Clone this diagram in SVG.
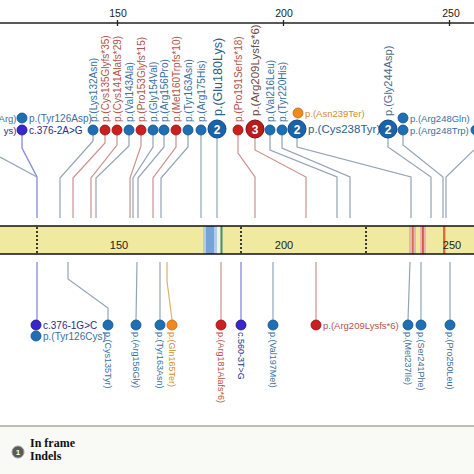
<svg xmlns="http://www.w3.org/2000/svg" width="474" height="474" viewBox="0 0 474 474">
<style>
text{font-family:"Liberation Sans",Arial,sans-serif}
.ax{font-size:10.5px;fill:#222}
.bn{font-size:11px;fill:#222}
.lt{font-size:10px}
.lb{font-size:9px}
.tb{fill:#3b6f9e}
.tr{fill:#b5524a}
.to{fill:#d98a2b}
.tp{fill:#2a2a8a}
.cb{fill:#1f6fb4;stroke:#0f4f8c;stroke-width:0.8}
.cr{fill:#cc1f1f;stroke:#8e1010;stroke-width:0.8}
.cp{fill:#3a26cc;stroke:#1c1280;stroke-width:0.8}
.co{fill:#f08a1c;stroke:#c06a10;stroke-width:0.8}
.big{fill:#1b63a8;stroke:#0e4a85;stroke-width:1}
.bigr{fill:#b81c1c;stroke:#7e0e0e;stroke-width:1}
.num{font-size:12px;font-weight:bold;fill:#fff;text-anchor:middle}
.lnb{fill:none;stroke:#93a4b6;stroke-width:1.2}
.lnr{fill:none;stroke:#c8928f;stroke-width:1.2}
.lnp{fill:none;stroke:#8e90e0;stroke-width:1.4}
.lno{fill:none;stroke:#e0b070;stroke-width:1.2}
.dot{stroke:#000;stroke-width:1.5;stroke-dasharray:2 2}
.leg{font-family:"Liberation Serif","Times New Roman",serif;font-size:12px;font-weight:bold;fill:#111}
</style>
<rect width="474" height="474" fill="#fff"/>

<g id="axis">
<line x1="0" y1="23" x2="474" y2="23" stroke="#222" stroke-width="1.5"/>
<line x1="117.5" y1="20" x2="117.5" y2="26" stroke="#222" stroke-width="1.3"/>
<line x1="283.5" y1="20" x2="283.5" y2="26" stroke="#222" stroke-width="1.3"/>
<line x1="449.5" y1="20" x2="449.5" y2="26" stroke="#222" stroke-width="1.3"/>
<text class="ax" x="118" y="17" text-anchor="middle">150</text>
<text class="ax" x="284" y="17" text-anchor="middle">200</text>
<text class="ax" x="451" y="17" text-anchor="middle">250</text>
</g>

<g id="connectors">
<!-- top -->
<polyline class="lnp" points="22,135 22,148 37,177 37,218"/>
<polyline class="lnb" points="0,157 37,177"/>
<polyline class="lnb" points="93,135 93,141 60,178 60,218"/>
<polyline class="lnr" points="105,135 105,143 73,178 73,218"/>
<polyline class="lnr" points="117,135 117,145 91,178 91,218"/>
<polyline class="lnb" points="129,135 129,146 96,178 96,218"/>
<polyline class="lnr" points="141,135 141,146 130,178 130,218"/>
<polyline class="lnb" points="153,135 153,147 133,178 133,218"/>
<polyline class="lnb" points="164,135 164,147 138,178 138,218"/>
<polyline class="lnr" points="176,135 176,147 153,178 153,218"/>
<polyline class="lnb" points="188,135 188,147 161,178 161,218"/>
<polyline class="lnb" points="201,135 201,218"/>
<polyline class="lnb" points="217,138 217,218"/>
<polyline class="lnr" points="238,135 238,153 255,177 255,218"/>
<polyline class="lnr" points="255,138 255,150 306,177 306,218"/>
<polyline class="lnb" points="270,135 270,150 337,177 337,218"/>
<polyline class="lnb" points="282,135 282,148 350,177 350,218"/>
<polyline class="lnb" points="297,138 297,147 411,177 411,218"/>
<polyline class="lnb" points="388,138 388,147 431,177 431,218"/>
<polyline class="lnb" points="403,135 403,145 443,177 443,218"/>
<polyline class="lnb" points="474,150 446,177 446,218"/>
<!-- bottom -->
<polyline class="lnp" points="37,262 37,320"/>
<polyline class="lnb" points="68,262 68,279 108,308 108,320"/>
<polyline class="lnb" points="137,262 136,320"/>
<polyline class="lnb" points="160,262 160,320"/>
<polyline class="lno" points="167,262 167,281 172,320"/>
<polyline class="lnr" points="221,262 221,320"/>
<polyline class="lnp" points="241,262 241,320"/>
<polyline class="lnb" points="273,262 273,320"/>
<polyline class="lnr" points="316,262 316,320"/>
<polyline class="lnb" points="410,262 408,320"/>
<polyline class="lnb" points="421,262 421,320"/>
<polyline class="lnb" points="450,262 450,320"/>
</g>

<g id="protein-bar">
<rect x="0" y="226" width="474" height="28" fill="#efeaa0"/>
<rect x="203" y="226" width="14" height="28" fill="#b4cbe6"/>
<rect x="206" y="226" width="8" height="28" fill="#76a2d4"/>
<rect x="217" y="226" width="3" height="28" fill="#f4f1dc"/>
<rect x="220.5" y="226" width="2" height="28" fill="#3f8f7f"/>
<rect x="409" y="226" width="7" height="28" fill="#e8b4b0"/>
<rect x="412" y="226" width="1.6" height="28" fill="#d46a5a"/>
<rect x="420" y="226" width="6" height="28" fill="#e8b4b0"/>
<rect x="422" y="226" width="1.8" height="28" fill="#cf5a4a"/>
<rect x="443" y="226" width="2.4" height="28" fill="#e06a3a"/>
<line x1="0" y1="226" x2="474" y2="226" stroke="#111" stroke-width="1.3"/>
<line x1="0" y1="254" x2="474" y2="254" stroke="#111" stroke-width="1.3"/>
<line class="dot" x1="37" y1="227" x2="37" y2="253"/>
<line class="dot" x1="241" y1="227" x2="241" y2="253"/>
<line class="dot" x1="366" y1="227" x2="366" y2="253"/>
<text class="bn" x="119" y="249" text-anchor="middle">150</text>
<text class="bn" x="284" y="249" text-anchor="middle">200</text>
<text class="bn" x="452" y="249" text-anchor="middle">250</text>
</g>

<!-- top left cut-off labels -->
<g id="m-left-edge">
<text class="tb" style="font-size:9.5px" x="16.5" y="122" text-anchor="end">Arg)</text>
<text class="tp" style="font-size:9.5px" x="16.5" y="134" text-anchor="end">ys)</text>
</g>
<g id="m-Tyr126Asp">
<circle class="cb" cx="22" cy="118" r="5"/>
<text class="lt tb" x="29" y="122">p.(Tyr126Asp)</text>
</g>
<g id="m-c376-2AG">
<circle class="cp" cx="22" cy="130" r="5"/>
<text class="lt tp" x="29" y="134">c.376-2A&gt;G</text>
</g>
<g id="m-Lys132Asn"><circle class="cb" cx="93" cy="130" r="5"/><text class="lt tb" transform="translate(96.5,122) rotate(-90)">p.(Lys132Asn)</text></g>
<g id="m-Cys135Glyfs35"><circle class="cr" cx="105" cy="130" r="5"/><text class="lt tr" transform="translate(108.5,122) rotate(-90)">p.(Cys135Glyfs*35)</text></g>
<g id="m-Cys141Alafs29"><circle class="cr" cx="117" cy="130" r="5"/><text class="lt tr" transform="translate(120.5,122) rotate(-90)">p.(Cys141Alafs*29)</text></g>
<g id="m-Val143Ala"><circle class="cb" cx="129" cy="130" r="5"/><text class="lt tb" transform="translate(132.5,122) rotate(-90)">p.(Val143Ala)</text></g>
<g id="m-Pro153Glyfs15"><circle class="cr" cx="141" cy="130" r="5"/><text class="lt tr" transform="translate(144.5,122) rotate(-90)">p.(Pro153Glyfs*15)</text></g>
<g id="m-Gly154Val"><circle class="cb" cx="153" cy="130" r="5"/><text class="lt tb" transform="translate(156.5,122) rotate(-90)">p.(Gly154Val)</text></g>
<g id="m-Arg156Pro"><circle class="cb" cx="164" cy="130" r="5"/><text class="lt tb" transform="translate(167.5,122) rotate(-90)">p.(Arg156Pro)</text></g>
<g id="m-Met160Trpfs10"><circle class="cr" cx="176" cy="130" r="5"/><text class="lt tr" transform="translate(179.5,122) rotate(-90)">p.(Met160Trpfs*10)</text></g>
<g id="m-Tyr163Asn-top"><circle class="cb" cx="188" cy="130" r="5"/><text class="lt tb" transform="translate(191.5,122) rotate(-90)">p.(Tyr163Asn)</text></g>
<g id="m-Arg175His"><circle class="cb" cx="201" cy="130" r="5"/><text class="lt tb" transform="translate(204.5,122) rotate(-90)">p.(Arg175His)</text></g>
<g id="m-Glu180Lys"><circle class="big" cx="217" cy="129" r="9"/><text class="num" x="217" y="133.5">2</text><text style="font-size:12.5px;fill:#2c5f8a" transform="translate(221.5,116) rotate(-90)">p.(Glu180Lys)</text></g>
<g id="m-Pro191Serfs18"><circle class="cr" cx="238" cy="130" r="5"/><text class="lt tr" transform="translate(241.5,122) rotate(-90)">p.(Pro191Serfs*18)</text></g>
<g id="m-Arg209Lysfs6-top"><circle class="bigr" cx="255" cy="129" r="9"/><text class="num" x="255" y="133.5">3</text><text style="font-size:11.5px;fill:#6b4a4a" transform="translate(259,116) rotate(-90)">p.(Arg209Lysfs*6)</text></g>
<g id="m-Val216Leu"><circle class="cb" cx="270" cy="130" r="5"/><text class="lt tb" transform="translate(273.5,122) rotate(-90)">p.(Val216Leu)</text></g>
<g id="m-Tyr220His"><circle class="cb" cx="282" cy="130" r="5"/><text class="lt tb" transform="translate(285.5,122) rotate(-90)">p.(Tyr220His)</text></g>
<g id="m-Asn239Ter"><circle class="co" cx="298" cy="113" r="5"/><text class="to" style="font-size:9.5px" x="305" y="117">p.(Asn239Ter)</text></g>
<g id="m-Cys238Tyr"><circle class="big" cx="297" cy="129" r="9"/><text class="num" x="297" y="133.5">2</text><text style="font-size:11.5px;fill:#2c5f8a" x="308" y="133">p.(Cys238Tyr)</text></g>
<g id="m-Gly244Asp"><circle class="big" cx="388" cy="129" r="9"/><text class="num" x="388" y="133.5">2</text><text style="font-size:11px;fill:#4a6a88" transform="translate(392,116) rotate(-90)">p.(Gly244Asp)</text></g>
<g id="m-Arg248Gln"><circle class="cb" cx="403" cy="118" r="5"/><text class="tb" style="font-size:9.5px" x="410" y="121.5">p.(Arg248Gln)</text></g>
<g id="m-Arg248Trp"><circle class="cb" cx="403" cy="130" r="5"/><text class="tb" style="font-size:9.5px" x="410" y="133.5">p.(Arg248Trp)</text></g>
<g id="m-right-edge"><circle class="cb" cx="476" cy="130" r="5"/></g>

<!-- bottom -->
<g id="m-c376-1GC"><circle class="cp" cx="36" cy="325" r="5"/><text class="lt tp" x="43" y="328.5">c.376-1G&gt;C</text></g>
<g id="m-Tyr126Cys"><circle class="cb" cx="36" cy="336" r="5"/><text class="lt tb" x="43" y="339.5">p.(Tyr126Cys)</text></g>
<g id="m-Cys135Tyr"><circle class="cb" cx="108" cy="325" r="5"/><text class="lb tb" transform="translate(105,332) rotate(90)">p.(Cys135Tyr)</text></g>
<g id="m-Arg156Gly"><circle class="cb" cx="136" cy="325" r="5"/><text class="lb tb" transform="translate(133,332) rotate(90)">p.(Arg156Gly)</text></g>
<g id="m-Tyr163Asn-bottom"><circle class="cb" cx="160" cy="325" r="5"/><text class="lb tb" transform="translate(157,332) rotate(90)">p.(Tyr163Asn)</text></g>
<g id="m-Gln165Ter"><circle class="co" cx="172" cy="325" r="5"/><text class="lb to" transform="translate(169,332) rotate(90)">p.(Gln165Ter)</text></g>
<g id="m-Arg181Alafs6"><circle class="cr" cx="221" cy="325" r="5"/><text class="lb tr" transform="translate(218,332) rotate(90)">p.(Arg181Alafs*6)</text></g>
<g id="m-c560-3TG"><circle class="cp" cx="241" cy="325" r="5"/><text class="lb tp" transform="translate(238,332) rotate(90)">c.560-3T&gt;G</text></g>
<g id="m-Val197Met"><circle class="cb" cx="273" cy="325" r="5"/><text class="lb tb" transform="translate(270,332) rotate(90)">p.(Val197Met)</text></g>
<g id="m-Arg209Lysfs6-bottom"><circle class="cr" cx="316" cy="325" r="5"/><text class="tr" style="font-size:9.5px" x="323" y="328.5">p.(Arg209Lysfs*6)</text></g>
<g id="m-Met237Ile"><circle class="cb" cx="408" cy="325" r="5"/><text class="lb tb" transform="translate(405,332) rotate(90)">p.(Met237Ile)</text></g>
<g id="m-Ser241Phe"><circle class="cb" cx="421" cy="325" r="5"/><text class="lb tb" transform="translate(418,332) rotate(90)">p.(Ser241Phe)</text></g>
<g id="m-Pro250Leu"><circle class="cb" cx="450" cy="325" r="5"/><text class="lb tb" transform="translate(447,332) rotate(90)">p.(Pro250Leu)</text></g>

<g id="legend">
<rect x="0" y="427" width="474" height="47" fill="#f9f9f5"/>
<line x1="0" y1="426" x2="474" y2="426" stroke="#bdbdb0" stroke-width="2"/>
<circle cx="18" cy="452" r="6" fill="#5a5a5a" stroke="#9a9a9a" stroke-width="1"/>
<text x="18" y="455" text-anchor="middle" style="font-size:8px;font-weight:bold;fill:#fff">1</text>
<text class="leg" x="30" y="447">In frame</text>
<text class="leg" x="30" y="460">Indels</text>
</g>
</svg>
